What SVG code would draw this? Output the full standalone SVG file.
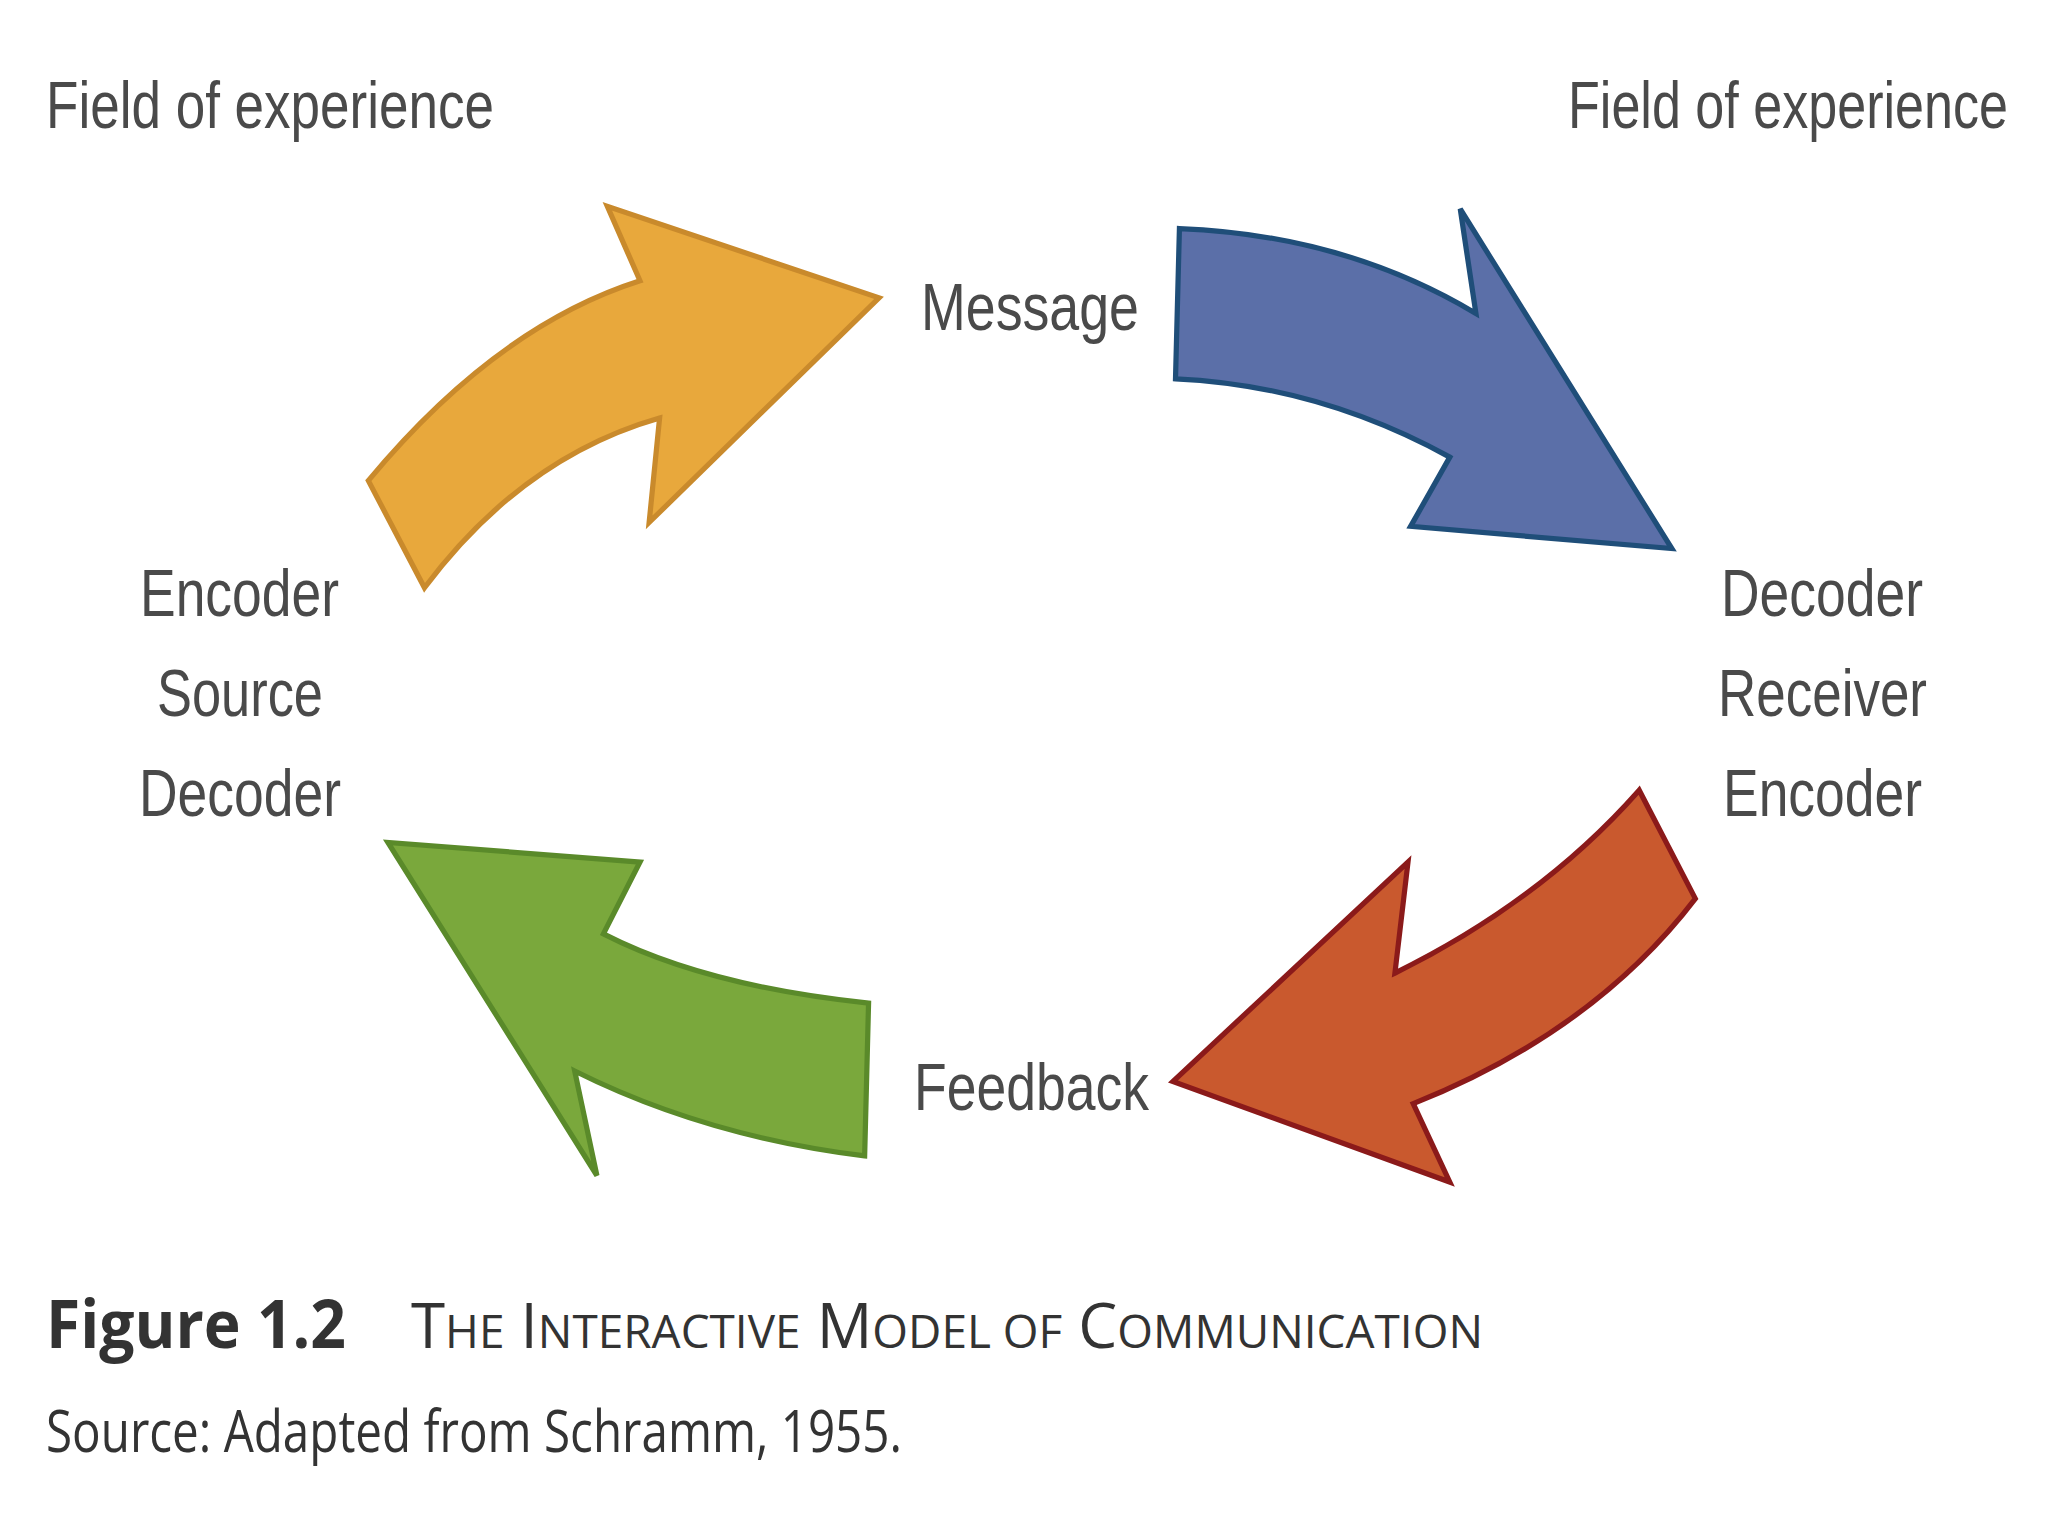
<svg xmlns="http://www.w3.org/2000/svg" width="2048" height="1536" viewBox="0 0 2048 1536">
<style>
.t{font-family:"Liberation Sans Narrow","Liberation Sans",Arial,sans-serif;fill:#4a4a4a;font-size:66px}
.c{text-anchor:middle}
.a{stroke-width:4;stroke-linejoin:miter}
</style>
<rect width="2048" height="1536" fill="#fff"/>
<g id="connectors" transform="scale(1.30612)">
<path class="a" fill="#E8A83C" stroke="#C98A2C" d="M282,368 Q380,250 490,215 L465,158 L673,228 L497,400 L505,320 Q400,350 325,450 Z"/>
<path class="a" fill="#5B6FA8" stroke="#1F4E79" d="M903,175 Q1030,180 1130,240 L1118,160 L1280,420 L1080,403 L1110,350 Q1010,295 900,290 Z"/>
<path class="a" fill="#C9592E" stroke="#8B1A1A" d="M1255,605 Q1180,690 1068,745 L1078,660 L898,828 L1110,905 L1082,845 Q1220,790 1298,688 Z"/>
<path class="a" fill="#7AA83C" stroke="#5A8A2A" d="M665,768 Q540,755 462,715 L490,660 L297,645 L457,900 L440,820 Q540,870 662,885 Z"/>
</g>
<g id="field-left"><text class="t" x="46" y="128" textLength="448" lengthAdjust="spacingAndGlyphs">Field of experience</text></g>
<g id="field-right"><text class="t" x="1568" y="128" textLength="440" lengthAdjust="spacingAndGlyphs">Field of experience</text></g>
<g id="message"><text class="t" x="921" y="330" textLength="218" lengthAdjust="spacingAndGlyphs">Message</text></g>
<g id="sender">
<text class="t" x="140" y="616" textLength="199" lengthAdjust="spacingAndGlyphs">Encoder</text>
<text class="t" x="157" y="716" textLength="166" lengthAdjust="spacingAndGlyphs">Source</text>
<text class="t" x="139" y="816" textLength="202" lengthAdjust="spacingAndGlyphs">Decoder</text>
</g>
<g id="receiver">
<text class="t" x="1721" y="616" textLength="202" lengthAdjust="spacingAndGlyphs">Decoder</text>
<text class="t" x="1718" y="716" textLength="209" lengthAdjust="spacingAndGlyphs">Receiver</text>
<text class="t" x="1723" y="816" textLength="199" lengthAdjust="spacingAndGlyphs">Encoder</text>
</g>
<g id="feedback"><text class="t" x="914" y="1110" textLength="235" lengthAdjust="spacingAndGlyphs">Feedback</text></g>
<g id="caption">
<text x="46" y="1348" style="font-family:'Open Sans','Liberation Sans',sans-serif;font-weight:bold;font-size:66px;fill:#333" textLength="300" lengthAdjust="spacingAndGlyphs">Figure 1.2</text>
<text x="411" y="1348" style="font-family:'Open Sans','Liberation Sans',sans-serif;font-size:62px;fill:#333" textLength="1072" lengthAdjust="spacingAndGlyphs">T<tspan font-size="46">HE</tspan> I<tspan font-size="46">NTERACTIVE</tspan> M<tspan font-size="46">ODEL OF</tspan> C<tspan font-size="46">OMMUNICATION</tspan></text>
<text x="46" y="1452" style="font-family:'Open Sans','Liberation Sans',sans-serif;font-size:58px;fill:#333" textLength="856" lengthAdjust="spacingAndGlyphs">Source: Adapted from Schramm, 1955.</text>
</g>
</svg>
